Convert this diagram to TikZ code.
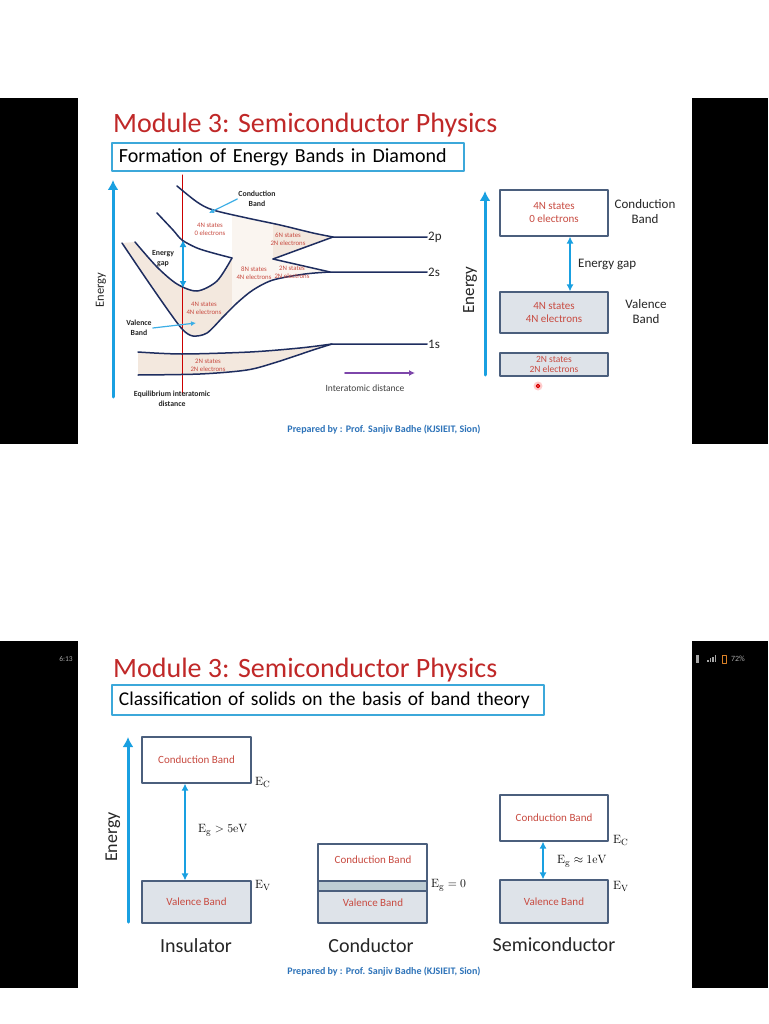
\documentclass[tikz,border=0pt]{standalone}
\usepackage[no-math]{fontspec}
\setmainfont{Carlito}
\usepackage{xcolor}
\usetikzlibrary{arrows.meta,positioning}

\definecolor{titlered}{RGB}{192,40,40}
\definecolor{framebl}{RGB}{60,168,218}
\definecolor{axisbl}{RGB}{25,160,225}
\definecolor{bandnavy}{RGB}{30,45,95}
\definecolor{bandred}{RGB}{200,75,65}
\definecolor{beige}{RGB}{243,232,222}
\definecolor{paleb}{RGB}{250,245,240}
\definecolor{boxedge}{RGB}{75,95,125}
\definecolor{dotgray}{RGB}{222,227,233}
\definecolor{overlap}{RGB}{190,205,212}
\definecolor{footbl}{RGB}{45,115,185}
\definecolor{arrowpurple}{RGB}{125,70,170}

\begin{document}
\begin{tikzpicture}[
		x=1pt,
		y=-1pt,
		line cap=round,
		line join=round,
		slidetitle/.style={text=titlered, font=\fontsize{28}{32}\selectfont, anchor=base west, inner sep=0pt},
		heading/.style={draw=framebl, line width=1.8pt, font=\fontsize{20}{24}\selectfont,
			anchor=north west, inner xsep=7pt, minimum height=28pt, align=left},
		band/.style={draw=bandnavy, line width=1.5pt},
		tinyred/.style={text=bandred, font=\fontsize{6.8}{8}\selectfont, align=center, inner sep=0pt},
		tag/.style={text=black!85, font=\bfseries\fontsize{7.8}{10}\selectfont, align=center, inner sep=1pt},
		plain/.style={text=black!85, align=center, inner sep=1pt},
		axis/.style={draw=axisbl, line width=3pt, -{Latex[length=10pt,width=11pt]}},
		gaparrow/.style={draw=axisbl, line width=2pt, {Latex[length=7pt,width=7pt]}-{Latex[length=7pt,width=7pt]}},
		callout/.style={draw=axisbl!85, line width=1.2pt, -{Latex[length=5pt,width=5pt]}},
		emptyband/.style={draw=boxedge, line width=1.1pt, fill=white, inner sep=0pt, text=bandred, align=center},
		fullband/.style={draw=boxedge, line width=1.1pt, fill=dotgray, inner sep=0pt, text=bandred, align=center},
		elabel/.style={anchor=west, inner sep=0pt, font=\fontsize{13}{15}\selectfont},
		footer/.style={text=footbl, font=\bfseries\fontsize{10}{12}\selectfont}
		]
		
		% background
		\fill[white] (0,0) rectangle (768,1024);
		\fill[black] (0,98) rectangle (78,444);
		\fill[black] (692,98) rectangle (768,444);
		\fill[black] (0,641) rectangle (78,988);
		\fill[black] (692,641) rectangle (768,988);
		
		% status bar
		\node[text=gray!70, font=\fontsize{7.5}{8}\selectfont] (clock) at (66,659) {6:13};
		\node[text=gray!70, font=\fontsize{8}{9}\selectfont] (battery) at (738,659) {72\%};
		\foreach \i in {0,...,3}
			\fill[gray!70] (707+2.6*\i,662) rectangle (708.6+2.6*\i,662-2-1.6*\i);
		\fill[gray!70] (696,655) rectangle (699,663);
		\draw[orange!70!gray, line width=0.8pt] (722,655) rectangle (726,663);
		
		% ===== slide 1 =====
		\node[slidetitle] (titleA) at (113,133) {Module 3: Semiconductor Physics};
		\node[heading, text width=338pt] (headA) at (111,142) {Formation of Energy Bands in Diamond};
		
		% key points of the band diagram
		\coordinate (K) at (273,259);
		\coordinate (P) at (333,237);
		\coordinate (S) at (330,272);
		\coordinate (R) at (332,344);
		\coordinate (lvl2p) at (427,237);
		\coordinate (lvl2s) at (427,272);
		\coordinate (lvl1s) at (427,344);
		
		% band fills
		\begin{scope}
			\clip (100,170) rectangle (232,400);
			\fill[beige] plot[smooth] coordinates {(122,243) (147,280) (170,313) (183,330) (193,336) (207,333) (223,317) (237,303) (253,290) (273,280) (305,274) (330,272)}
				-- (232,258)
				-- plot[smooth] coordinates {(232,258) (217,281) (197,291) (177,284) (157,267) (135,242)} -- cycle;
		\end{scope}
		\begin{scope}
			\clip (232,170) rectangle (273,400);
			\fill[paleb] plot[smooth] coordinates {(177,186) (197,202) (213,210) (247,218) (280,225) (313,233) (333,237)}
				-- (S)
				-- plot[smooth] coordinates {(330,272) (305,274) (273,280) (253,290) (237,303) (223,317) (207,333) (193,336)} -- cycle;
		\end{scope}
		\begin{scope}
			\clip (273,170) rectangle (340,400);
			\fill[beige] plot[smooth] coordinates {(177,186) (197,202) (213,210) (247,218) (280,225) (313,233) (333,237)} -- (K) -- cycle;
			\fill[paleb] (K) -- (S)
				-- plot[smooth] coordinates {(330,272) (305,274) (273,280) (253,290) (237,303)} -- cycle;
		\end{scope}
		\fill[beige] plot[smooth] coordinates {(138,352) (182,354) (250,352) (300,348) (332,344)}
			-- plot[smooth] coordinates {(332,344) (313,350) (277,362) (247,370) (200,374) (138,375)} -- cycle;
		
		% equilibrium line
		\draw[red!80!black, line width=1pt] (182,175) -- (182,394);
		
		% band edges
		\draw[band] plot[smooth] coordinates {(177,186) (197,202) (213,210) (247,218) (280,225) (313,233) (333,237)} -- (lvl2p);
		\draw[band] plot[smooth] coordinates {(157,213) (173,230) (182,240) (197,248) (213,253) (232,258)};
		\draw[band] plot[smooth] coordinates {(135,242) (157,267) (177,284) (197,291) (217,281) (232,258)};
		\draw[band] plot[smooth] coordinates {(122,243) (147,280) (170,313) (183,330) (193,336) (207,333) (223,317) (237,303) (253,290) (273,280) (305,274) (330,272)} -- (lvl2s);
		\draw[band] (K) -- (P);
		\draw[band] (K) -- (S);
		\draw[band] plot[smooth] coordinates {(138,352) (182,354) (250,352) (300,348) (332,344)} -- (lvl1s);
		\draw[band] plot[smooth] coordinates {(138,375) (200,374) (247,370) (277,362) (313,350) (332,344)};
		
		% level names
		\node[plain, font=\fontsize{13}{15}\selectfont, right=0pt of lvl2p] (n2p) {2p};
		\node[plain, font=\fontsize{13}{15}\selectfont, right=0pt of lvl2s] (n2s) {2s};
		\node[plain, font=\fontsize{13}{15}\selectfont, right=0pt of lvl1s] (n1s) {1s};
		
		% state counts
		\node[tinyred] (cbcount) at (210,229) {4N states\\0 electrons};
		\node[tinyred] (pcount) at (288,239) {6N states\\2N electrons};
		\node[tinyred] (mixcount) at (254,273) {8N states\\4N electrons};
		\node[tinyred] (scount) at (292,272) {2N states\\2N electrons};
		\node[tinyred] (vbcount) at (204,308) {4N states\\4N electrons};
		\node[tinyred] (onecount) at (208,365) {2N states\\2N electrons};
		
		% tags
		\node[tag] (cbtag) at (257,199) {Conduction\\Band};
		\node[tag] (gaptag) at (163,259) {Energy\\gap};
		\node[tag] (vbtag) at (139,328) {Valence\\Band};
		\node[tag] (eqtag) at (172,399) {Equilibrium interatomic\\distance};
		\coordinate (cbtip) at (209,213);
		\coordinate (vbtip) at (196,323);
		\draw[callout] (cbtag.west) -- (cbtip);
		\draw[callout] (vbtag.east) -- (vbtip);
		\draw[gaparrow, line width=1.5pt] (183,240) -- (183,288);
		
		% axes
		\coordinate (axA0) at (113,397);
		\coordinate (axA1) at (113,180);
		\draw[axis] (axA0) -- (axA1);
		\node[plain, rotate=90, font=\fontsize{12.5}{14}\selectfont] (enA) at (101,290) {Energy};
		\coordinate (rA0) at (345,373);
		\coordinate (rA1) at (415,373);
		\draw[arrowpurple, line width=1.6pt, -{Latex[length=6pt,width=6pt]}] (rA0) -- (rA1);
		\node[plain, text=black!75, font=\fontsize{9.5}{11}\selectfont] (rlabel) at (365,388) {Interatomic distance};
		
		% simple band picture
		\coordinate (axB0) at (485,375);
		\coordinate (axB1) at (485,191);
		\draw[axis] (axB0) -- (axB1);
		\node[plain, rotate=90, font=\fontsize{17}{19}\selectfont] (enB) at (470,290) {Energy};
		\node[emptyband, minimum width=108pt, minimum height=46pt, font=\fontsize{11}{13}\selectfont] (cb1) at (554,213) {4N states\\0 electrons};
		\node[fullband, minimum width=108pt, minimum height=41pt, font=\fontsize{11}{13}\selectfont] (vb1) at (554,312.5) {4N states\\4N electrons};
		\node[fullband, minimum width=108pt, minimum height=23pt, font=\fontsize{9.5}{10}\selectfont] (sb1) at (554,364.5) {2N states\\2N electrons};
		\draw[gaparrow] ([xshift=16pt]cb1.south) -- ([xshift=16pt]vb1.north);
		\node[plain, font=\fontsize{13}{15}\selectfont] (cbname) at (645,212) {Conduction\\Band};
		\node[plain, font=\fontsize{13}{15}\selectfont, anchor=west] (gapname) at (577,264) {Energy gap};
		\node[plain, font=\fontsize{13}{15}\selectfont] (vbname) at (646,312) {Valence\\Band};
		\fill[red!20] (538,386) circle (4.5);
		\draw[red!85!black, line width=1.2pt] (538,386) circle (1.8);
		
		\node[footer] (footA) at (384,430) {Prepared by : Prof. Sanjiv Badhe (KJSIEIT, Sion)};
		
		% ===== slide 2 =====
		\node[slidetitle] (titleB) at (113,677) {Module 3: Semiconductor Physics};
		\node[heading, text width=418pt, minimum height=30pt, font=\fontsize{19.5}{23}\selectfont] (headB) at (111,684) {\mbox{Classification of solids on the basis of band theory}};
		
		\coordinate (axC0) at (128,922);
		\coordinate (axC1) at (128,737);
		\draw[axis] (axC0) -- (axC1);
		\node[plain, rotate=90, font=\fontsize{18}{20}\selectfont] (enC) at (113,837) {Energy};
		
		% insulator
		\node[emptyband, minimum width=109pt, minimum height=46pt, font=\fontsize{11}{13}\selectfont] (icb) at (196.5,760) {Conduction Band};
		\node[fullband, minimum width=109pt, minimum height=42pt, font=\fontsize{11}{13}\selectfont] (ivb) at (196.5,902) {Valence Band};
		\draw[gaparrow] ([xshift=-11.5pt]icb.south) -- ([xshift=-11.5pt]ivb.north);
		\node[elabel] (iec) at (255,782) {$\mathrm{E_C}$};
		\node[elabel] (iev) at (255,885) {$\mathrm{E_V}$};
		\node[elabel] (ieg) at (198,830) {$\mathrm{E_g} > 5\mathrm{eV}$};
		\node[plain, font=\fontsize{20}{22}\selectfont] (iname) at (196,946) {Insulator};
		
		% conductor
		\node[emptyband, minimum width=109pt, minimum height=37pt] (ccb) at (372.5,862.5) {};
		\node[draw=boxedge, line width=1.1pt, fill=overlap, minimum width=109pt, minimum height=10pt, inner sep=0pt] (cov) at (372.5,886) {};
		\node[fullband, minimum width=109pt, minimum height=32pt] (cvb) at (372.5,907) {};
		\node[text=bandred, font=\fontsize{11}{13}\selectfont] (ccbtext) at (373,860) {Conduction Band};
		\node[text=bandred, font=\fontsize{11}{13}\selectfont] (cvbtext) at (373,903) {Valence Band};
		\node[elabel] (ceg) at (431,885) {$\mathrm{E_g} = 0$};
		\node[plain, font=\fontsize{20}{22}\selectfont] (cname) at (371,946) {Conductor};
		
		% semiconductor
		\node[emptyband, minimum width=108pt, minimum height=46pt, font=\fontsize{11}{13}\selectfont] (scb) at (554,818) {Conduction Band};
		\node[fullband, minimum width=108pt, minimum height=43pt, font=\fontsize{11}{13}\selectfont] (svb) at (554,901.5) {Valence Band};
		\draw[gaparrow] ([xshift=-11pt]scb.south) -- ([xshift=-11pt]svb.north);
		\node[elabel] (sec) at (613,840) {$\mathrm{E_C}$};
		\node[elabel] (sev) at (613,886) {$\mathrm{E_V}$};
		\node[elabel] (seg) at (557,861) {$\mathrm{E_g} \approx 1\mathrm{eV}$};
		\node[plain, font=\fontsize{20}{22}\selectfont] (sname) at (554,945) {Semiconductor};
		
		\node[footer] (footB) at (384,972) {Prepared by : Prof. Sanjiv Badhe (KJSIEIT, Sion)};
\end{tikzpicture}
\end{document}
